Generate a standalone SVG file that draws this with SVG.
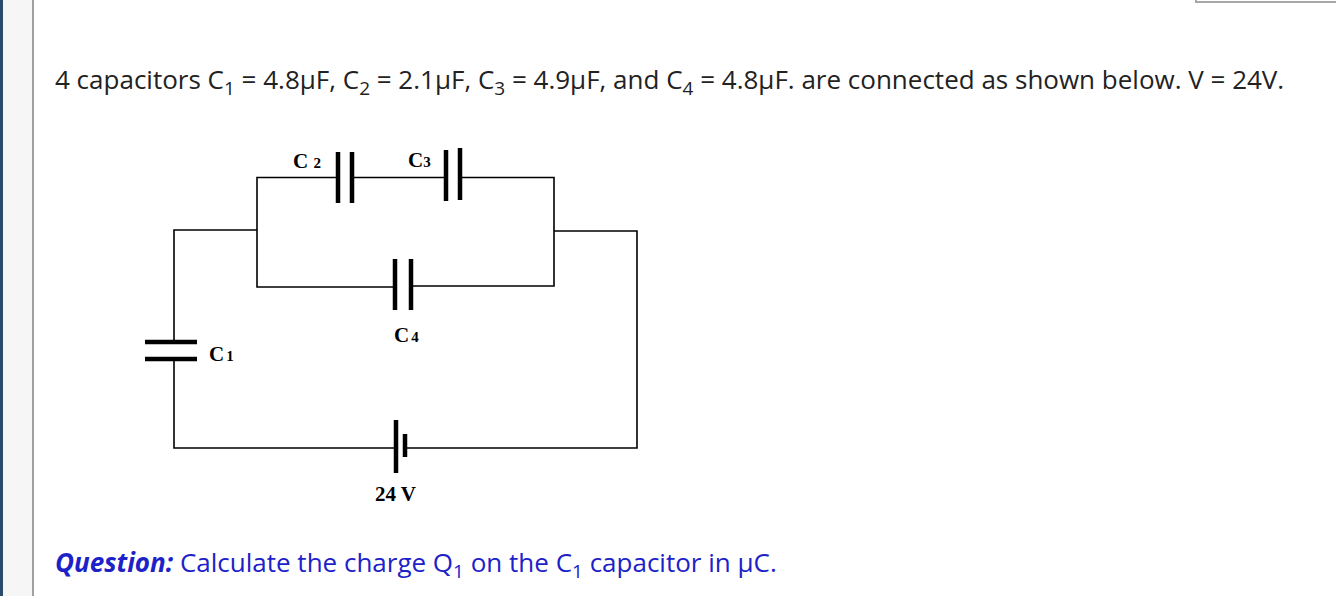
<svg xmlns="http://www.w3.org/2000/svg" width="1336" height="596" viewBox="0 0 1336 596">
<style>
.w{fill:none;stroke:#000;stroke-width:1.6}
.p{stroke:#000;stroke-width:4.5}
.l{font-family:"Liberation Serif",serif;font-weight:bold;font-size:21px;fill:#000}
.s{font-size:15px}
.t{font-family:"Open Sans",sans-serif;font-size:26px;fill:#222}
.q{font-family:"Open Sans",sans-serif;font-size:26px;fill:#1c22c8}
</style>
<rect width="1336" height="596" fill="#fff"/>
<rect x="0" y="0" width="3" height="596" fill="#2c4a6a"/>
<rect x="3" y="0" width="29" height="596" fill="#f6f6f6"/>
<rect x="32" y="0" width="2" height="596" fill="#a0a0a0"/>
<path d="M1196 0V2H1336" fill="none" stroke="#a8a8a8" stroke-width="2"/>
<text class="t" x="55" y="89">4 capacitors C<tspan dy="6" font-size="19">1</tspan><tspan dy="-6"> = 4.8μF, C</tspan><tspan dy="6" font-size="19">2</tspan><tspan dy="-6"> = 2.1μF, C</tspan><tspan dy="6" font-size="19">3</tspan><tspan dy="-6"> = 4.9μF, and C</tspan><tspan dy="6" font-size="19">4</tspan><tspan dy="-6"> = 4.8μF. are connected as shown below. V = 24V.</tspan></text>
<g id="connectors">
<path class="w" d="M338 177.5H257V287H395M411 286H554V177.5H460M446 177.5H352"/>
<path class="w" d="M257 230H174V342M174 360V448H396M405 448H637V231H554"/>
</g>
<g id="C2"><line class="p" x1="338" y1="152" x2="338" y2="203"/><line class="p" x1="352" y1="152" x2="352" y2="203"/><text class="l" x="293" y="168">C <tspan class="s">2</tspan></text></g>
<g id="C3"><line class="p" x1="446" y1="150" x2="446" y2="201"/><line class="p" x1="460" y1="148" x2="460" y2="200"/><text class="l" x="408" y="167">C<tspan class="s">3</tspan></text></g>
<g id="C4"><line class="p" x1="395" y1="259" x2="395" y2="310"/><line class="p" x1="411" y1="259" x2="411" y2="310"/><text class="l" x="394" y="342">C<tspan class="s" dx="2">4</tspan></text></g>
<g id="C1"><line class="p" x1="145" y1="342" x2="197" y2="342"/><line class="p" x1="145" y1="359" x2="197" y2="359"/><text class="l" x="209" y="361">C<tspan class="s" dx="2">1</tspan></text></g>
<g id="battery"><line class="p" x1="396" y1="420" x2="396" y2="473"/><line class="p" x1="405" y1="434" x2="405" y2="457"/><text class="l" x="375" y="501">24 V</text></g>
<text class="q" x="55" y="572"><tspan font-weight="bold" font-style="italic">Question:</tspan> Calculate the charge Q<tspan dy="6" font-size="19">1</tspan><tspan dy="-6"> on the C</tspan><tspan dy="6" font-size="19">1</tspan><tspan dy="-6"> capacitor in μC.</tspan></text>
</svg>
